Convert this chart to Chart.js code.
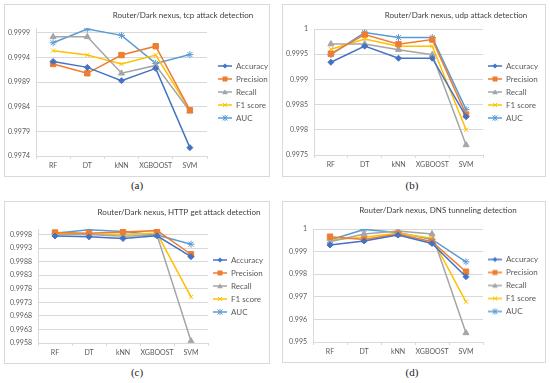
<!DOCTYPE html>
<html>
<head>
<meta charset="utf-8">
<script src="https://cdn.jsdelivr.net/npm/chart.js@4/dist/chart.umd.min.js"></script>
<style>
body { margin: 0; background: #fff; width: 550px; height: 383px; position: relative; overflow: hidden; }
.boite { position: absolute; border: 1px solid #d9d9d9; box-sizing: border-box; background: #fff; }
.lettre { position: absolute; font-family: "Liberation Serif", serif; font-size: 11px; color: #222; width: 40px; text-align: center; }
</style>
</head>
<body>

<div class="boite" style="left:4px; top:4px; width:266px; height:173px;"><canvas id="graphA"></canvas></div>
<div class="boite" style="left:282px; top:4px; width:264px; height:173px;"><canvas id="graphB"></canvas></div>
<div class="boite" style="left:4px; top:201px; width:266px; height:163px;"><canvas id="graphC"></canvas></div>
<div class="boite" style="left:282px; top:201px; width:264px; height:162px;"><canvas id="graphD"></canvas></div>

<div class="lettre" style="left:117px; top:179px;">(a)</div>
<div class="lettre" style="left:392px; top:179px;">(b)</div>
<div class="lettre" style="left:117px; top:366px;">(c)</div>
<div class="lettre" style="left:392px; top:366px;">(d)</div>

<script>
// DONNEES

var modeles = ["RF", "DT", "kNN", "XGBOOST", "SVM"];
var metriques = ["Accuracy", "Precision", "Recall", "F1 score", "AUC"];

// (a) tcp attack detection
var tcpAccuracy = [0.99932, 0.99920, 0.99893, 0.99918, 0.99757];
var tcpPrecision = [0.99927, 0.99908, 0.99945, 0.99963, 0.99833];
var tcpRecall = [0.99982, 0.99982, 0.99908, 0.99924, 0.99831];
var tcpF1 = [0.99954, 0.99945, 0.99927, 0.99945, 0.99833];
var tcpAuc = [0.99970, 0.99998, 0.99985, 0.99928, 0.99946];
var tcpTicks = [0.9974, 0.9979, 0.9984, 0.9989, 0.9994, 0.9999];

// (b) udp attack detection
var udpAccuracy = [0.99934, 0.99966, 0.99942, 0.99942, 0.99826];
var udpPrecision = [0.99951, 0.99989, 0.99970, 0.99979, 0.99830];
var udpRecall = [0.99970, 0.99970, 0.99959, 0.99949, 0.99770];
var udpF1 = [0.99960, 0.99980, 0.99966, 0.99966, 0.99800];
var udpAuc = [0.99949, 0.99993, 0.99983, 0.99983, 0.99840];
var udpTicks = [0.9975, 0.998, 0.9985, 0.999, 0.9995, 1];

// (c) HTTP get attack detection
var httpAccuracy = [0.99974, 0.99971, 0.99965, 0.99975, 0.99898];
var httpPrecision = [0.99987, 0.99984, 0.99989, 0.99994, 0.99907];
var httpRecall = [0.99980, 0.99980, 0.99973, 0.99978, 0.99587];
var httpF1 = [0.99984, 0.99981, 0.99981, 0.99984, 0.99750];
var httpAuc = [0.99984, 0.99997, 0.99991, 0.99978, 0.99944];
var httpTicks = [0.9958, 0.9963, 0.9968, 0.9973, 0.9978, 0.9983, 0.9988, 0.9993, 0.9998];

// (d) DNS tunneling detection
var dnsAccuracy = [0.99929, 0.99947, 0.99973, 0.99936, 0.99789];
var dnsPrecision = [0.99966, 0.99954, 0.99978, 0.99944, 0.99811];
var dnsRecall = [0.99944, 0.99978, 0.99991, 0.99978, 0.99540];
var dnsF1 = [0.99951, 0.99963, 0.99981, 0.99959, 0.99678];
var dnsAuc = [0.99951, 0.99998, 0.99985, 0.99954, 0.99855];
var dnsTicks = [0.995, 0.996, 0.997, 0.998, 0.999, 1];

// STYLE DES SERIES (couleurs excel)
var couleurs = ["#4472c4", "#ed7d31", "#a5a5a5", "#ffc000", "#5b9bd5"];
var marqueurs = ["rectRot", "rect", "triangle", "crossRot", "star"];
var rayons = [3, 3.8, 3.5, 3, 3.5];

// petite icone ligne + marqueur pour la legende
function iconeLegende(i, marge) {
    var c = document.createElement("canvas");
    c.width = 14 + marge;
    c.height = 8;
    var ctx = c.getContext("2d");
    var m = marge + 7;
    ctx.strokeStyle = couleurs[i];
    ctx.fillStyle = couleurs[i];
    ctx.lineWidth = 1.5;
    ctx.beginPath();
    ctx.moveTo(marge, 4);
    ctx.lineTo(marge + 14, 4);
    ctx.stroke();
    ctx.lineWidth = 1;
    ctx.beginPath();
    if (i == 0) {
        ctx.moveTo(m, 1.5); ctx.lineTo(m + 2.5, 4); ctx.lineTo(m, 6.5); ctx.lineTo(m - 2.5, 4); ctx.closePath(); ctx.fill();
    } else if (i == 1) {
        ctx.rect(m - 2.5, 1.5, 5, 5); ctx.fill();
    } else if (i == 2) {
        ctx.moveTo(m, 1.2); ctx.lineTo(m + 2.8, 6.2); ctx.lineTo(m - 2.8, 6.2); ctx.closePath(); ctx.fill();
    } else if (i == 3) {
        ctx.moveTo(m - 2, 2); ctx.lineTo(m + 2, 6); ctx.moveTo(m + 2, 2); ctx.lineTo(m - 2, 6); ctx.stroke();
    } else {
        ctx.moveTo(m - 2.5, 1.5); ctx.lineTo(m + 2.5, 6.5); ctx.moveTo(m + 2.5, 1.5); ctx.lineTo(m - 2.5, 6.5);
        ctx.moveTo(m, 1); ctx.lineTo(m, 7); ctx.stroke();
    }
    return c;
}

var police = "Lato";

// TITRE DECALE A DROITE COMME DANS EXCEL
var titreExcel = {
    id: "titreExcel",
    afterDraw: function(chart, args, opts) {
        var ctx = chart.ctx;
        ctx.save();
        ctx.font = "8px " + police;
        ctx.fillStyle = "#404040";
        ctx.textAlign = "center";
        ctx.textBaseline = "middle";
        ctx.fillText(opts.text, opts.x, opts.y);
        ctx.restore();
    }
};

// zone : [gauche, haut, droite, hauteur axe x, marge icone] en pixels du canvas
function graphique(idCanvas, titre, titreX, titreY, series, ticks, zone) {
    var jeux = [];
    var icones = [];
    for (var i = 0; i < series.length; i++) {
        jeux.push({
            label: metriques[i],
            data: series[i],
            borderColor: couleurs[i],
            backgroundColor: couleurs[i],
            borderWidth: 1.5,
            pointStyle: marqueurs[i],
            pointRadius: rayons[i],
            pointBorderWidth: 1,
            pointHoverRadius: rayons[i],
            tension: 0
        });
        icones.push(iconeLegende(i, zone[4]));
    }

    var canvas = document.getElementById(idCanvas);
    var largeur = canvas.parentNode.clientWidth;

    return new Chart(canvas, {
        type: "line",
        data: {
            labels: modeles,
            datasets: jeux
        },
        plugins: [titreExcel],
        options: {
            responsive: true,
            maintainAspectRatio: false,
            animation: false,
            layout: {
                padding: { top: zone[1], right: 0, left: 0, bottom: 0 }
            },
            plugins: {
                titreExcel: { text: titre, x: titreX, y: titreY },
                tooltip: { enabled: false },
                legend: {
                    position: "right",
                    fullSize: false,
                    maxWidth: largeur - zone[2],
                    labels: {
                        usePointStyle: true,
                        pointStyleWidth: 14 + zone[4],
                        boxHeight: 8,
                        padding: 5,
                        color: "#595959",
                        font: { family: police, size: 8 },
                        generateLabels: function(chart) {
                            var items = Chart.defaults.plugins.legend.labels.generateLabels(chart);
                            for (var k = 0; k < items.length; k++) {
                                items[k].pointStyle = icones[k];
                            }
                            return items;
                        }
                    }
                }
            },
            scales: {
                x: {
                    offset: true,
                    afterFit: function(scale) {
                        scale.height = zone[3];
                    },
                    grid: {
                        offset: true,
                        drawOnChartArea: false,
                        tickLength: 3,
                        color: "#d9d9d9"
                    },
                    border: { color: "#d9d9d9" },
                    ticks: {
                        color: "#595959",
                        font: { family: police, size: 7 },
                        padding: 3,
                        maxRotation: 0,
                        minRotation: 0,
                        autoSkip: false
                    }
                },
                y: {
                    min: ticks[0],
                    max: 1,
                    afterBuildTicks: function(scale) {
                        scale.ticks = ticks.map(function(v) { return { value: v }; });
                    },
                    afterFit: function(scale) {
                        scale.width = zone[0];
                    },
                    grid: {
                        color: "#d9d9d9",
                        drawTicks: false
                    },
                    border: { color: "#d9d9d9" },
                    ticks: {
                        color: "#595959",
                        font: { family: police, size: 7 },
                        padding: 6,
                        callback: function(v) { return String(v); }
                    }
                }
            }
        }
    });
}

graphique("graphA", "Router/Dark nexus, tcp attack detection", 178, 10,
    [tcpAccuracy, tcpPrecision, tcpRecall, tcpF1, tcpAuc], tcpTicks, [31, 23, 202, 20, 6]);
graphique("graphB", "Router/Dark nexus, udp attack detection", 173, 10,
    [udpAccuracy, udpPrecision, udpRecall, udpF1, udpAuc], udpTicks, [31, 24, 200, 21, 0]);
graphique("graphC", "Router/Dark nexus, HTTP get attack detection", 174, 10,
    [httpAccuracy, httpPrecision, httpRecall, httpF1, httpAuc], httpTicks, [33, 27, 203, 20, 0]);
graphique("graphD", "Router/Dark nexus, DNS tunneling detection", 155, 8,
    [dnsAccuracy, dnsPrecision, dnsRecall, dnsF1, dnsAuc], dnsTicks, [30, 27, 200, 20, 0]);
</script>
</body>
</html>
